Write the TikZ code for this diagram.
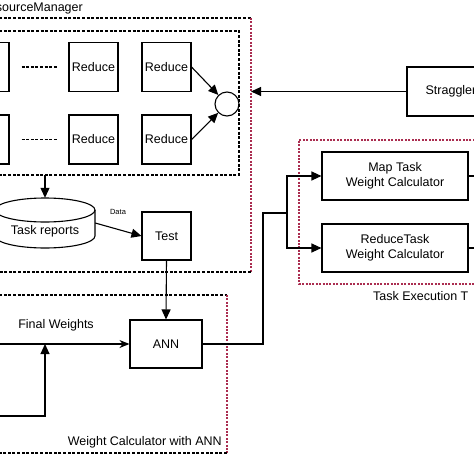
\documentclass[tikz,border=0pt]{standalone}
\usepackage{fontspec}
\setmainfont{Liberation Sans}
\usetikzlibrary{arrows.meta}
\definecolor{rmred}{RGB}{170,45,80}
\begin{document}
\begin{tikzpicture}[x=1pt, y=1pt, font=\fontsize{12.5}{15}\selectfont,
  box/.style={draw, line width=1.1pt, inner sep=0pt, align=center},
  arr/.style={-{Triangle[length=10pt,width=9pt]}, line width=1.1pt},
  ln/.style={line width=1.1pt},
  blk/.style={dash pattern=on 3pt off 1.6pt, line width=1.1pt},
  redline/.style={dash pattern=on 2pt off 1.4pt, line width=1.1pt, rmred}]
\clip (0,0) rectangle (474,-474);
% group frames
\draw[blk] (-10,-18) -- (251,-18);
\draw[redline] (251,-18) -- (251,-272);
\draw[blk] (251,-272) -- (-10,-272);
\draw[blk] (-10,-31) -| (239,-175) -- (-10,-175);
\draw[blk] (-10,-295) -- (227,-295);
\draw[redline] (227,-295) -- (227,-453);
\draw[blk] (227,-453) -- (-10,-453);
\draw[redline] (485,-140) -| (299,-284) -- (485,-284);
\node[anchor=east, inner sep=0pt] (rmlab) at (83,-8){ResourceManager};
\node[anchor=east, inner sep=0pt] (wclab) at (222,-442){Weight Calculator with ANN};
\node[anchor=west, inner sep=0pt] (telab) at (373,-296){Task Execution T};
% reducers
\node[box, minimum width=49, minimum height=49] (p1) at (-15.5,-67){};
\node[box, minimum width=49, minimum height=49] (r11) at (93.5,-67){Reduce};
\node[box, minimum width=49, minimum height=49] (r12) at (166.5,-67){Reduce};
\node[box, minimum width=49, minimum height=49] (p2) at (-15.5,-139.5){};
\node[box, minimum width=49, minimum height=49] (r21) at (93.5,-139.5){Reduce};
\node[box, minimum width=49, minimum height=49] (r22) at (166.5,-139.5){Reduce};
\draw[blk] ([xshift=12pt]p1.east) -- ([xshift=-11pt]r11.west);
\draw[blk] ([xshift=12pt]p2.east) -- ([xshift=-11pt]r21.west);
\node[circle, draw, line width=1.1pt, minimum size=24, inner sep=0pt] (join) at (227,-104){};
\draw[arr] (r12.east) -- (join);
\draw[arr] (r22.east) -- (join);
% straggler
\node[box, minimum width=88, minimum height=49] (strag) at (451,-91.5){Straggler};
\coordinate (rmE) at (251,-91.5);
\draw[arr] (strag.west) -- (rmE);
% task reports
\node[inner sep=0pt, minimum width=100, minimum height=50] (rep) at (45,-223){};
\draw[ln] (45,-210) ellipse [x radius=50, y radius=12];
\draw[ln] (-5,-210) -- (-5,-236) arc[start angle=180, end angle=360, x radius=50, y radius=12] -- (95,-210);
\node (replab) at (45,-231){Task reports};
\coordinate (inB) at (45,-175);
\draw[arr] (inB) -- (rep.north);
\node[box, minimum width=49, minimum height=48] (test) at (166.5,-236){Test};
\draw[arr] (rep.east) -- (test.west);
\node[font=\fontsize{7.5}{9}\selectfont] (data) at (118,-212){Data};
% ANN
\node[box, minimum width=72, minimum height=48] (ann) at (166,-344){ANN};
\draw[arr] (test.south) -- (ann.north);
\coordinate (fwL) at (-5,-344);
\coordinate (fwJ) at (45,-344);
\coordinate (fbL) at (-5,-416);
\draw[ln, -{Stealth[length=10pt,width=8pt]}] (fwL) -- (ann.west);
\draw[arr] (fbL) -| (fwJ);
\node (fw) at (56,-325){Final Weights};
% task weight calculators
\node[box, minimum width=146, minimum height=48] (mapw) at (395,-176){Map Task\\Weight Calculator};
\node[box, minimum width=146, minimum height=48] (redw) at (395,-248){ReduceTask\\Weight Calculator};
\coordinate (bend) at (263,-213);
\coordinate (split) at (287,-213);
\draw[ln] (ann.east) -| (bend) -- (split);
\draw[arr] (split) |- (mapw.west);
\draw[arr] (split) |- (redw.west);
\coordinate (mapR) at (485,-176);
\coordinate (redR) at (485,-248);
\draw[ln] (mapw.east) -- (mapR);
\draw[ln] (redw.east) -- (redR);
\end{tikzpicture}
\end{document}
